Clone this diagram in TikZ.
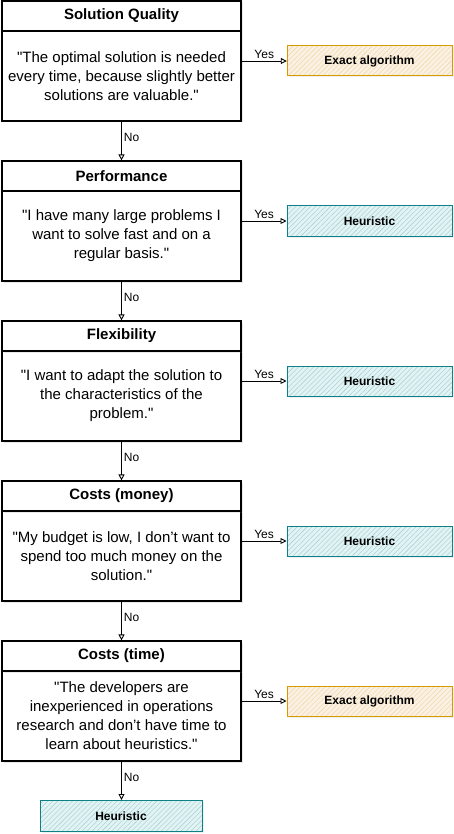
\documentclass[tikz,border=0pt]{standalone}
\usepackage{fontspec}
\setmainfont{Liberation Sans}[Ligatures=TeXOff]
\usetikzlibrary{arrows.meta,patterns.meta,shadows}
\definecolor{orS}{HTML}{D79B00}
\definecolor{orF}{HTML}{FBF0E4}
\definecolor{teS}{HTML}{0E8088}
\definecolor{teF}{HTML}{E2F3F4}
\tikzset{
  hdr/.style={draw, line width=1.2pt, minimum width=239pt, minimum height=30pt, inner sep=0pt,
    font=\fontsize{15}{18}\selectfont\bfseries, fill=white,
    drop shadow={shadow xshift=1.5pt, shadow yshift=-1.5pt, opacity=0.18}},
  body/.style={draw, line width=1.2pt, minimum width=239pt, minimum height=90pt, inner sep=0pt,
    align=center, font=\fontsize{15}{19}\selectfont, fill=white,
    drop shadow={shadow xshift=1.5pt, shadow yshift=-1.5pt, opacity=0.18}},
  res/.style={line width=1pt, minimum width=165pt, minimum height=30pt, inner sep=0pt,
    font=\fontsize{12}{14}\selectfont\bfseries,
    drop shadow={shadow xshift=1.5pt, shadow yshift=-1.5pt, opacity=0.12}},
  exact/.style={res, draw=orS, preaction={fill=orF},
    pattern={Lines[angle=45,distance=3.5pt,line width=0.4pt]}, pattern color=orS!40},
  heur/.style={res, draw=teS, preaction={fill=teF},
    pattern={Lines[angle=45,distance=3.5pt,line width=0.4pt]}, pattern color=teS!40},
  lbl/.style={font=\fontsize{12}{14}\selectfont, inner sep=2pt},
  arr/.style={-{Triangle[open,length=6pt,width=6pt]}, line width=0.9pt}
}
\begin{document}
\begin{tikzpicture}[x=1pt,y=-1pt]
\useasboundingbox (0,0) rectangle (453,834);

% Block 0
\node[body] (b0) at (121.5,76) {"The optimal solution is needed\\every time, because slightly better\\solutions are valuable."};
\node[hdr] (h0) at (121.5,16) {Solution Quality};
\node[exact] (r0) at (369.5,61) {Exact algorithm};

% Block 1
\node[body] (b1) at (121.5,236) {"I have many large problems I\\want to solve fast and on a\\regular basis."};
\node[hdr] (h1) at (121.5,176) {Performance};
\node[heur] (r1) at (369.5,221) {Heuristic};

% Block 2
\node[body] (b2) at (121.5,396) {"I want to adapt the solution to\\the characteristics of the\\problem."};
\node[hdr] (h2) at (121.5,336) {Flexibility};
\node[heur] (r2) at (369.5,381) {Heuristic};

% Block 3
\node[body] (b3) at (121.5,556) {"My budget is low, I don’t want to\\spend too much money on the\\solution."};
\node[hdr] (h3) at (121.5,496) {Costs (money)};
\node[heur] (r3) at (369.5,541) {Heuristic};

% Block 4
\node[body] (b4) at (121.5,716) {"The developers are\\inexperienced in operations\\research and don’t have time to\\learn about heuristics."};
\node[hdr] (h4) at (121.5,656) {Costs (time)};
\node[exact] (r4) at (369.5,701) {Exact algorithm};

% Final
\node[heur, minimum width=162pt, minimum height=31pt] (f) at (121,816) {Heuristic};

% Yes arrows
\foreach \i in {0,...,4}{
  \draw[arr] (b\i.east |- r\i) -- (r\i.west) node[midway, above, lbl] {Yes};
}
% No arrows
\draw[arr] (b0.south) -- (h1.north) node[pos=0.4, right, lbl] {No};
\draw[arr] (b1.south) -- (h2.north) node[pos=0.4, right, lbl] {No};
\draw[arr] (b2.south) -- (h3.north) node[pos=0.4, right, lbl] {No};
\draw[arr] (b3.south) -- (h4.north) node[pos=0.4, right, lbl] {No};
\draw[arr] (b4.south) -- (b4.south |- f.north) node[pos=0.4, right, lbl] {No};
\end{tikzpicture}
\end{document}
